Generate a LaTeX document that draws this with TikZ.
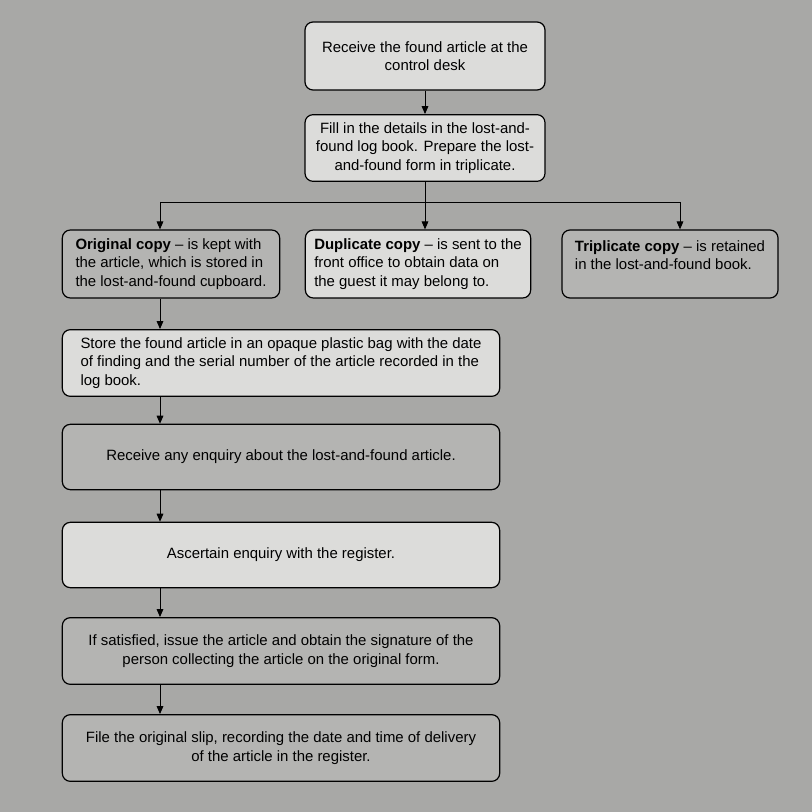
\documentclass[tikz,border=0pt]{standalone}
\usepackage{fontspec}
\setmainfont{Liberation Sans}
\usetikzlibrary{arrows.meta}
\definecolor{page}{HTML}{A8A8A6}
\definecolor{lightbox}{HTML}{DCDCDA}
\definecolor{darkbox}{HTML}{B4B4B2}
\tikzset{
  box/.style={draw=black, line width=0.9pt, rounded corners=6pt, inner sep=3pt,
    font=\fontsize{11.2}{13.8}\selectfont},
  lbox/.style={box, fill=lightbox},
  dbox/.style={box, fill=darkbox},
  arr/.style={-{Triangle[length=6pt,width=5pt]}, line width=0.7pt},
  ln/.style={line width=0.7pt}
}
\begin{document}
\begin{tikzpicture}[x=0.75pt,y=-0.75pt]
\fill[page] (0,0) rectangle (812,812);
\useasboundingbox (0,0) rectangle (812,812);
\node[lbox, minimum width=180pt, minimum height=51pt, align=center] (a) at (425,56) {Receive the found article at the\\control desk};
\node[lbox, minimum width=180pt, minimum height=50pt, align=center] (b) at (425,148) {Fill in the details in the lost-and-\\found log book. Prepare the lost-\\and-found form in triplicate.};
\node[dbox, minimum width=163pt, minimum height=51pt, align=left] (c1) at (171,264) {\textbf{Original copy} -- is kept with\\the article, which is stored in\\the lost-and-found cupboard.};
\node[lbox, minimum width=169pt, minimum height=51pt, align=left] (c2) at (418,264) {\textbf{Duplicate copy} -- is sent to the\\front office to obtain data on\\the guest it may belong to.};
\node[dbox, minimum width=162pt, minimum height=51pt, align=left] (c3) at (670,264) {\textbf{Triplicate copy} -- is retained\\in the lost-and-found book.\\\mbox{}};
\node[lbox, minimum width=328pt, minimum height=50pt, align=left] (d) at (281,363) {Store the found article in an opaque plastic bag with the date\\of finding and the serial number of the article recorded in the\\log book.};
\node[dbox, minimum width=328pt, minimum height=49pt, align=center] (e) at (281,457) {Receive any enquiry about the lost-and-found article.};
\node[lbox, minimum width=328pt, minimum height=49pt, align=center] (f) at (281,555) {Ascertain enquiry with the register.};
\node[dbox, minimum width=328pt, minimum height=50pt, align=center] (g) at (281,651) {If satisfied, issue the article and obtain the signature of the\\person collecting the article on the original form.};
\node[dbox, minimum width=328pt, minimum height=50pt, align=center] (h) at (281,748) {File the original slip, recording the date and time of delivery\\of the article in the register.};
\coordinate (j) at (425,202);
\coordinate (jl) at (160,202);
\coordinate (jr) at (680,202);
\draw[arr] (a) -- (b);
\draw[ln] (b) -- (j);
\draw[ln] (jl) -- (jr);
\draw[arr] (jl) -- (jl |- c1.north);
\draw[arr] (j) -- (j |- c2.north);
\draw[arr] (jr) -- (jr |- c3.north);
\draw[arr] (c1.south -| jl) -- (jl |- d.north);
\draw[arr] (d.south -| jl) -- (jl |- e.north);
\draw[arr] (e.south -| jl) -- (jl |- f.north);
\draw[arr] (f.south -| jl) -- (jl |- g.north);
\draw[arr] (g.south -| jl) -- (jl |- h.north);
\end{tikzpicture}
\end{document}
